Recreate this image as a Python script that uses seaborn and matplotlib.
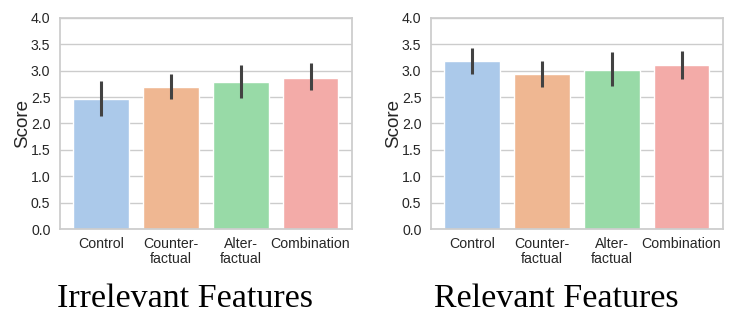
import pandas as pd
import seaborn as sns
import matplotlib.pyplot as plt

conditions = ["Control", "Counter-\nfactual", "Alter-\nfactual", "Combination"]

irrelevant_mean = [2.47, 2.69, 2.79, 2.87]
irrelevant_lo = [2.15, 2.46, 2.48, 2.63]
irrelevant_hi = [2.81, 2.94, 3.11, 3.14]

relevant_mean = [3.19, 2.93, 3.01, 3.11]
relevant_lo = [2.94, 2.70, 2.71, 2.84]
relevant_hi = [3.44, 3.19, 3.35, 3.37]

panel_titles = ["Irrelevant Features", "Relevant Features"]

sns.set_theme(style="whitegrid", palette="pastel")
plt.rcParams["font.family"] = ["Liberation Sans", "DejaVu Sans"]

fig = plt.figure(figsize=(7.42, 3.15), dpi=100)
ax_left = fig.add_axes([0.081, 0.273, 0.393, 0.67])
ax_right = fig.add_axes([0.581, 0.273, 0.393, 0.67])

panels = [
    (ax_left, irrelevant_mean, irrelevant_lo, irrelevant_hi),
    (ax_right, relevant_mean, relevant_lo, relevant_hi),
]

for (ax, mean, lo, hi), title in zip(panels, panel_titles):
    df = pd.DataFrame({"Condition": conditions, "Score": mean, "lo": lo, "hi": hi})
    sns.barplot(data=df, x="Condition", y="Score", hue="Condition",
                palette="pastel", errorbar=None, legend=False, ax=ax)
    ax.vlines(df["Condition"], df["lo"], df["hi"], color=".26", linewidth=2.2)
    ax.set_ylim(0, 4)
    ax.set_yticks([0, 0.5, 1, 1.5, 2, 2.5, 3, 3.5, 4])
    ax.set_xlabel("")
    ax.set_ylabel("Score", fontsize=13.5, labelpad=0)
    ax.tick_params(axis="y", labelsize=10.2, pad=1)
    ax.tick_params(axis="x", labelsize=10.2, pad=0)
    for t in ax.get_xticklabels():
        t.set_linespacing(1.05)
    bb = ax.get_position()
    # caption under each panel
    fig.text((bb.x0 + bb.x1) / 2 - 0.028, 0.003, title, ha="center", va="bottom",
             fontsize=24.5, color="black",
             family=["Liberation Serif", "DejaVu Serif"])

fig.savefig("out.png", dpi=100)
